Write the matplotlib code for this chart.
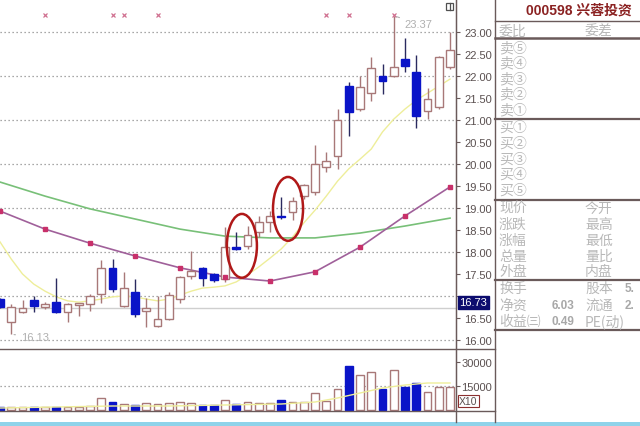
import numpy as np
import matplotlib.pyplot as plt
from matplotlib.patches import Rectangle, Ellipse
from matplotlib.lines import Line2D
import matplotlib.transforms as mtrans

plt.rcParams['font.family'] = ['Liberation Sans', 'Noto Sans CJK SC', 'DejaVu Sans']

# 日K线数据 (开, 高, 低, 收)
opens = [16.93, 16.41, 16.64, 16.91, 16.75, 16.86, 16.64, 16.80, 16.82, 17.05,
         17.64, 16.77, 17.09, 16.66, 16.32, 16.48, 16.93, 17.45, 17.64, 17.50,
         17.39, 18.11, 18.14, 18.45, 18.68, 18.81, 18.91, 19.27, 19.36, 19.93,
         20.18, 21.77, 21.25, 21.61, 22.00, 22.00, 22.39, 22.09, 21.20, 21.30, 22.20]
highs = [16.96, 16.82, 16.91, 17.00, 16.86, 17.41, 16.84, 16.84, 17.05, 17.82,
         17.84, 17.55, 17.39, 16.95, 17.00, 17.09, 17.45, 18.02, 17.66, 17.52,
         18.57, 18.45, 18.59, 18.82, 18.93, 19.25, 19.25, 19.55, 20.43, 20.27,
         21.25, 21.86, 22.00, 22.43, 22.27, 23.37, 22.86, 22.48, 21.73, 22.45, 23.00]
lows = [16.72, 16.13, 16.62, 16.64, 16.70, 16.62, 16.41, 16.55, 16.66, 16.84,
        17.09, 16.75, 16.52, 16.30, 16.30, 16.46, 16.84, 17.39, 17.23, 17.32,
        17.32, 18.05, 18.07, 18.34, 18.45, 18.75, 18.73, 19.20, 19.30, 19.82,
        19.89, 20.64, 21.20, 21.43, 21.59, 21.98, 22.09, 20.82, 21.02, 21.25, 22.15]
closes = [16.75, 16.75, 16.73, 16.77, 16.82, 16.64, 16.82, 16.82, 17.00, 17.64,
          17.16, 17.18, 16.59, 16.73, 16.48, 17.02, 17.43, 17.57, 17.41, 17.36,
          18.11, 18.07, 18.39, 18.68, 18.82, 18.79, 19.16, 19.52, 20.00, 20.07,
          21.00, 21.18, 21.75, 22.18, 21.89, 22.20, 22.23, 21.09, 21.48, 22.43, 22.59]
volumes = [2100, 2100, 2100, 1900, 1900, 1900, 2100, 2100, 2500, 7300,
           5200, 3500, 2900, 4600, 3500, 4200, 5000, 4200, 2900, 2900,
           6200, 4000, 5000, 4200, 4200, 6000, 5000, 5000, 10400, 5600,
           13300, 27500, 21900, 23800, 12900, 25000, 14600, 16700, 11000, 14400, 14400]

# 均线
ma_yellow = [18.23, 17.84, 17.50, 17.27, 17.11, 16.98, 16.89, 16.86, 16.89, 16.93,
             16.98, 17.00, 16.98, 16.93, 16.89, 16.93, 17.02, 17.11, 17.18, 17.20,
             17.23, 17.32, 17.48, 17.66, 17.86, 18.07, 18.34, 18.66, 18.95, 19.27,
             19.61, 19.89, 20.11, 20.34, 20.73, 21.02, 21.25, 21.45, 21.61, 21.77, 21.93]
ma_idx = [0, 4, 8, 12, 16, 20, 24, 28, 32, 36, 40]
ma_green = [19.59, 19.27, 18.98, 18.75, 18.52, 18.36, 18.32, 18.32, 18.43, 18.59, 18.77]
ma_purple = [18.93, 18.52, 18.20, 17.91, 17.64, 17.43, 17.34, 17.55, 18.11, 18.82, 19.48]
vma_idx = [0, 5, 10, 15, 20, 25, 28, 30, 32, 34, 36, 38, 40]
vma_yellow = [1250, 1875, 2500, 2500, 3125, 3750, 5000, 7500, 10625, 13750, 15625, 16875, 16875]

cross_idx = [4, 10, 11, 14, 29, 31, 35]
last_price = 16.73
price_ticks = np.arange(16.0, 23.01, 0.5)
vol_ticks = [15000, 30000]

W, H = 640, 427
fig = plt.figure(figsize=(6.4, 4.27), dpi=100)
fig.patch.set_facecolor('white')

def fx(px):
    return px / W

def fy(py):
    return 1 - py / H

up_col = '#a87878'
dn_col = '#0a14c8'
frame = '#6a5a5a'

# 主图
ax = fig.add_axes([0, fy(350), fx(456), 350 / H])
x = np.arange(len(closes))
ax.set_xlim(0, 40.53)
ax.set_ylim(15.795, 23.75)
for s in ['left', 'top', 'bottom']:
    ax.spines[s].set_visible(False)
ax.spines['right'].set_color(frame)
ax.set_xticks([])
ax.yaxis.tick_right()
ax.set_yticks(price_ticks)
# 17.00 被现价标签遮住
ax.set_yticklabels(['' if abs(t - 17.0) < 1e-6 else f'{t:.2f}' for t in price_ticks])
ax.tick_params(axis='y', length=3, width=0.8, color=frame, labelsize=8,
               labelcolor='#5a5050', pad=3)

for p in range(16, 24):
    ax.axhline(p, color='#8c8c8c', lw=0.9, ls=(0, (1, 2.2)), zorder=0)
ax.axhline(last_price, color='#cfcfcf', lw=1.0, zorder=0)

ax.plot(x, ma_yellow, color='#eeee9a', lw=1.0, zorder=1)
ax.plot(ma_idx, ma_green, color='#78c078', lw=1.2, zorder=1)
ax.plot(ma_idx, ma_purple, color='#a0609a', lw=1.2, zorder=1)
ax.plot(ma_idx, ma_purple, ls='none', marker='s', ms=3.5, color='#c8306a', zorder=4)

for i in x:
    o, h, l, c = opens[i], highs[i], lows[i], closes[i]
    up = c >= o
    col = up_col if up else dn_col
    wick = up_col if up else '#2a2a60'
    ax.vlines(i, l, h, color=wick, lw=1.0, zorder=2)
    bh = max(abs(c - o), 0.035)
    ax.bar(i, bh, bottom=min(o, c), width=0.68,
           facecolor='white' if up else dn_col, edgecolor=col, lw=1.0, zorder=3)

tr = mtrans.blended_transform_factory(ax.transData, ax.transAxes)
ax.plot(cross_idx, [1 - 16 / 350] * len(cross_idx), ls='none', marker='x', ms=3,
        mew=0.9, color='#d07090', transform=tr)

ax.add_patch(Ellipse((21.5, 18.14), 2.67, 1.45, fill=False, edgecolor='#b01818', lw=1.8, zorder=5))
ax.add_patch(Ellipse((25.6, 18.98), 2.67, 1.45, fill=False, edgecolor='#b01818', lw=1.8, zorder=5))

imax = int(np.argmax(highs))
imin = int(np.argmin(lows))
ax.annotate(f'{highs[imax]:.2f}', xy=(imax, highs[imax]), xytext=(8, -6),
            textcoords='offset points', fontsize=8, color='#b0b0b0', va='center',
            arrowprops=dict(arrowstyle='-', color='#b0b0b0', lw=0.8))
ax.annotate(f'{lows[imin]:.2f}', xy=(imin, lows[imin]), xytext=(7, -2),
            textcoords='offset points', fontsize=8, color='#b0b0b0', va='center',
            arrowprops=dict(arrowstyle='-', color='#b0b0b0', lw=0.8))
ax.annotate(f'{last_price:.2f}', xy=(1, last_price), xycoords=('axes fraction', 'data'),
            xytext=(2.5, 0.5), textcoords='offset points', fontsize=8, color='white',
            va='bottom', ha='left', annotation_clip=False, zorder=10,
            bbox=dict(boxstyle='square,pad=0.15', facecolor='#0c0c6e', edgecolor='#0c0c6e'))

# 成交量
vax = fig.add_axes([0, fy(412), fx(456), 62 / H])
vax.set_xlim(0, 40.53)
vax.set_ylim(-625, 38125)
for s in ['left', 'top', 'bottom']:
    vax.spines[s].set_visible(False)
vax.spines['right'].set_color(frame)
vax.set_xticks([])
vax.yaxis.tick_right()
vax.set_yticks(vol_ticks)
vax.set_yticklabels([str(v) for v in vol_ticks])
vax.tick_params(axis='y', length=3, width=0.8, color=frame, labelsize=8,
                labelcolor='#5a5050', pad=1)
vax.axhline(15000, color='#8c8c8c', lw=0.9, ls=(0, (1, 2.2)), zorder=0)
for i in x:
    up = closes[i] >= opens[i]
    vax.bar(i, volumes[i], width=0.68, facecolor='white' if up else dn_col,
            edgecolor=up_col if up else dn_col, lw=1.0, zorder=2)
vax.plot(vma_idx, vma_yellow, color='#eeee9a', lw=1.0, zorder=3)
fig.text(fx(459), fy(402), 'X10', fontsize=7.5, color='#5a5050', va='center', ha='left',
         bbox=dict(boxstyle='square,pad=0.12', facecolor='white', edgecolor='#8b3030', lw=0.8))

# 框线
def hline(py, x0, x1, lw=1.0, color=frame):
    fig.add_artist(Line2D([fx(x0), fx(x1)], [fy(py), fy(py)], color=color, lw=lw))

def vline(px, y0, y1, lw=1.0, color=frame):
    fig.add_artist(Line2D([fx(px), fx(px)], [fy(y0), fy(y1)], color=color, lw=lw))

hline(350, 0, 495)
hline(412, 0, 495)
vline(456, 0, 423)
vline(495, 0, 423)
hline(22, 495, 640, lw=1.0)
hline(39, 495, 640, lw=1.8)
hline(120, 495, 640, lw=1.6)
hline(201, 495, 640, lw=1.6)
hline(281, 495, 640, lw=1.6)
hline(331, 495, 640, lw=1.6)
fig.add_artist(Rectangle((0, 0), 1, 4 / H, transform=fig.transFigure,
                         facecolor='#8fd3ea', edgecolor='none'))
fig.add_artist(Rectangle((fx(446), fy(11)), 7 / W, 7 / H, transform=fig.transFigure,
                         facecolor='white', edgecolor='#505050', lw=0.9))
vline(449.5, 4, 11, lw=0.9, color='#505050')

# 右侧盘口
cjk = ['Noto Sans CJK SC', 'DejaVu Sans']
lab = '#b8b8b8'
fig.text(fx(632), fy(11), '000598 兴蓉投资', fontsize=10, fontweight='bold', color='#8b2222',
         ha='right', va='center', family=['Liberation Sans', 'Noto Sans CJK SC'])

left_labels = [('委比', 32), ('卖⑤', 48), ('卖④', 63), ('卖③', 79), ('卖②', 94), ('卖①', 110),
               ('买①', 128), ('买②', 144), ('买③', 160), ('买④', 175), ('买⑤', 191),
               ('现价', 209), ('涨跌', 225), ('涨幅', 241), ('总量', 257), ('外盘', 272),
               ('换手', 289), ('净资', 306), ('收益㈢', 322)]
right_labels = [('委差', 32), ('今开', 209), ('最高', 225), ('最低', 241), ('量比', 257),
                ('内盘', 272), ('股本', 289), ('流通', 306), ('PE(动)', 322)]
for t, py in left_labels:
    fig.text(fx(499), fy(py), t, fontsize=10, color=lab, va='center', ha='left', family=cjk)
for t, py in right_labels:
    fig.text(fx(585), fy(py), t, fontsize=10, color=lab, va='center', ha='left', family=cjk)

num = '#a8a8a8'
fig.text(fx(574), fy(306), '6.03', fontsize=8.5, fontweight='bold', color=num, ha='right', va='center')
fig.text(fx(574), fy(322), '0.49', fontsize=8.5, fontweight='bold', color=num, ha='right', va='center')
fig.text(fx(625), fy(289), '5.', fontsize=8.5, fontweight='bold', color=num, ha='left', va='center')
fig.text(fx(625), fy(306), '2.', fontsize=8.5, fontweight='bold', color=num, ha='left', va='center')

fig.savefig('out.png', dpi=100)
